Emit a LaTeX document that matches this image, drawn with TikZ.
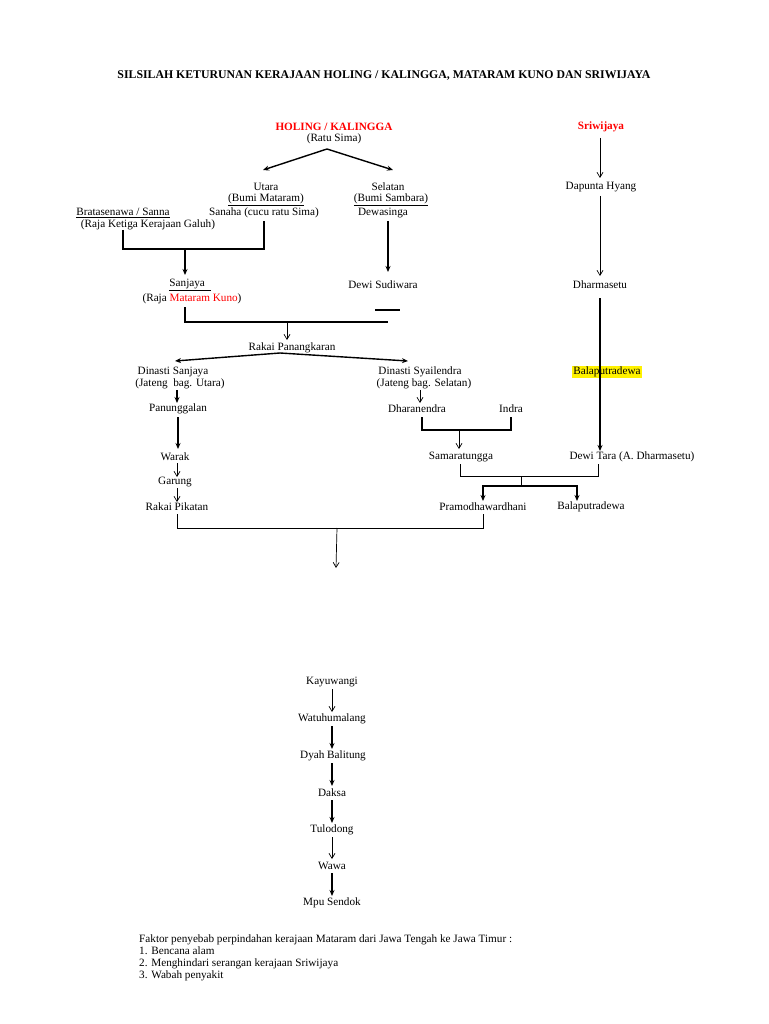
\documentclass[tikz,border=0pt]{standalone}
\usepackage{fontspec}
\setmainfont{Liberation Serif}
\usetikzlibrary{arrows.meta}
\begin{document}
\begin{tikzpicture}[x=1pt,y=-1pt,
  every node/.style={inner sep=0pt,font=\fontsize{11.2}{13}\selectfont,align=center},
  thin line/.style={line width=0.7pt},
  thick line/.style={line width=1.4pt},
  arr/.style={thin line,-{Straight Barb[length=5pt,width=6pt]}},
  tarr/.style={thick line,-{Stealth[length=6pt,width=5pt]}}]
\useasboundingbox (0,0) rectangle (768,1024);
\node[font=\fontsize{11.8}{13}\selectfont\bfseries] (title) at (384,76) {SILSILAH KETURUNAN KERAJAAN HOLING / KALINGGA, MATARAM KUNO DAN SRIWIJAYA};
\node[text=red,font=\fontsize{11.2}{13}\selectfont\bfseries] (holing) at (334,127) {HOLING / KALINGGA};
\node (ratu) at (334,139) {(Ratu Sima)};
\node (utara) at (266,187) {Utara};
\node (bm) at (266,200) {\underline{(Bumi Mataram)}};
\node (sanaha) at (264,213) {Sanaha (cucu ratu Sima)};
\node (selatan) at (388,187) {Selatan};
\node (bs) at (391,200) {\underline{(Bumi Sambara)}};
\node (dewasinga) at (383,213) {Dewasinga};
\node (brata) at (123,213) {\underline{Bratasenawa / Sanna}};
\node (raja3) at (148,225) {(Raja Ketiga Kerajaan Galuh)};
\node (sanjaya) at (190,285) {\underline{Sanjaya\ \ }};
\node (rajamk) at (192,299) {(Raja \textcolor{red}{Mataram Kuno})};
\node (sudiwara) at (383,285) {Dewi Sudiwara};
\node (rakaip) at (292,348) {Rakai Panangkaran};
\node (dsan) at (173,372) {Dinasti Sanjaya};
\node (jtu) at (180,384) {(Jateng\ \ bag. Utara)};
\node (dsya) at (420,372) {Dinasti Syailendra};
\node (jts) at (424,384) {(Jateng bag. Selatan)};
\node (panung) at (178,409) {Panunggalan};
\node (dhara) at (417,409) {Dharanendra};
\node (indra) at (511,409) {Indra};
\node (warak) at (175,457) {Warak};
\node (garung) at (175,482) {Garung};
\node (pikatan) at (177,507) {Rakai Pikatan};
\node (samara) at (461,457) {Samaratungga};
\node (dtara) at (632,457) {Dewi Tara (A. Dharmasetu)};
\node (pramo) at (483,507) {Pramodhawardhani};
\node (bala2) at (591,507) {Balaputradewa};
\node[text=red,font=\fontsize{11.2}{13}\selectfont\bfseries] (sriwi) at (601,127) {Sriwijaya};
\node (dapunta) at (601,187) {Dapunta Hyang};
\node (dharma) at (600,285) {Dharmasetu};
\node[fill=yellow,inner sep=1pt] (bala1) at (607,372) {Balaputradewa};
\node (kayu) at (332,682) {Kayuwangi};
\node (watu) at (332,719) {Watuhumalang};
\node (dyah) at (333,756) {Dyah Balitung};
\node (daksa) at (332,793) {Daksa};
\node (tulo) at (332,830) {Tulodong};
\node (wawa) at (332,866) {Wawa};
\node (mpu) at (332,903) {Mpu Sendok};
\node[align=left,anchor=north west,font=\fontsize{11.2}{12}\selectfont] (foot) at (139,935) {Faktor penyebab perpindahan kerajaan Mataram dari Jawa Tengah ke Jawa Timur :\\1. Bencana alam\\2. Menghindari serangan kerajaan Sriwijaya\\3. Wabah penyakit};
% top
\coordinate (top) at (327,149);
\draw[tarr] (top) -- (263,170);
\draw[tarr] (top) -- (393,170);
\draw[thick line] (123,230) -- (123,249) -- (264,249) -- (264,221);
\draw[tarr] (185,249) -- (185,275);
\draw[tarr] (388,221) -- (388,272);
\draw[thick line] (375,310) -- (400,310);
\draw[thick line] (185,307) -- (185,322) -- (388,322);
\draw[arr] (287,322) -- (287,340);
\coordinate (rp) at (280,353);
\draw[tarr] (rp) -- (175,361);
\draw[tarr] (rp) -- (408,361);
\draw[tarr] (177,390) -- (177,403);
\draw[arr] (420,390) -- (420,403);
\draw[tarr] (178,417) -- (178,449);
\draw[arr] (177,463) -- (177,477);
\draw[arr] (177,488) -- (177,502);
\draw[thick line] (422,417) -- (422,430) -- (511,430) -- (511,417);
\draw[arr] (459,430) -- (459,449);
\draw[thin line] (460,464) -- (460,476) -- (598,476) -- (598,464);
\draw[thin line] (521,476) -- (521,486);
\draw[tarr] (521,486) -- (483,486) -- (483,501);
\draw[tarr] (521,486) -- (577,486) -- (577,501);
% sriwijaya
\draw[arr] (600,138) -- (600,178);
\draw[arr] (600,196) -- (600,276);
\draw[tarr] (600,298) -- (600,451);
% join
\draw[thin line] (177,514) -- (177,528) -- (483,528) -- (483,514);
\draw[arr] (337,528) -- (336,568);
% bottom chain
\draw[arr] (332,689) -- (332,712);
\draw[tarr] (332,726) -- (332,749);
\draw[tarr] (332,763) -- (332,786);
\draw[tarr] (332,800) -- (332,823);
\draw[arr] (332,837) -- (332,859);
\draw[tarr] (332,873) -- (332,896);
\end{tikzpicture}
\end{document}
